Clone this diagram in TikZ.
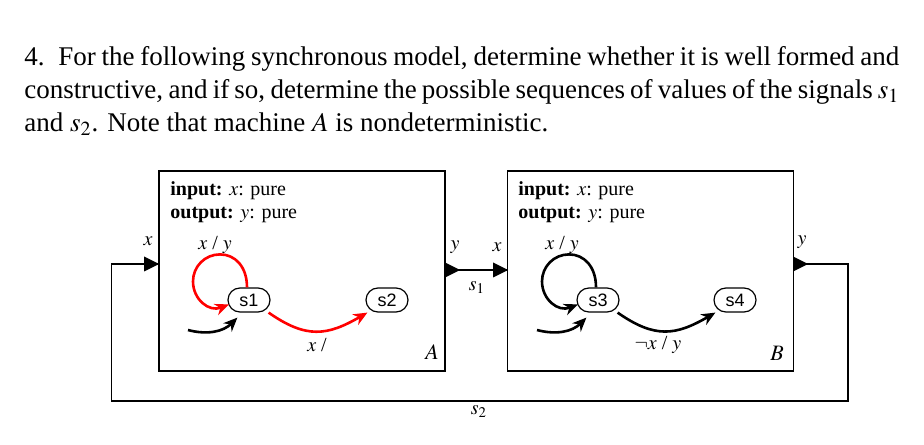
\documentclass[tikz,border=0pt]{standalone}
\usepackage{mathptmx}
\usepackage{fontspec}
\setmainfont{Liberation Serif}
\newfontfamily\statefont{Liberation Sans}
\usetikzlibrary{arrows.meta,positioning,calc}
\tikzset{
  actor/.style={draw,line width=0.6pt,minimum width=143pt,minimum height=100pt,inner sep=0pt},
  state/.style={draw,line width=0.6pt,rounded corners=6pt,minimum width=21pt,minimum height=12pt,
    inner sep=0pt,font=\statefont\fontsize{9}{10}\selectfont},
  trans/.style={line width=1.3pt,-{Stealth[length=7pt,width=6pt]}},
  nondet/.style={trans,red},
  wire/.style={line width=0.6pt},
  lbl/.style={font=\fontsize{10}{11.5}\selectfont,inner sep=0pt}
}

\begin{document}
\begin{tikzpicture}[x=0.5pt,y=0.5pt]
  \useasboundingbox (0,0) rectangle (924,444);
  % the question
  \node[anchor=north west,inner sep=0pt,text width=437.5pt,align=justify,
    font=\fontsize{13.5}{16.5}\selectfont] (question) at (24,398)
    {\hangindent=17pt\hangafter=1\makebox[17pt][l]{4.}For the following synchronous model, determine whether it is well formed and\linebreak
     constructive, and if so, determine the possible sequences of values of the signals $s_1$\linebreak
     and $s_2$. Note that machine $A$ is nondeterministic.};

  % machines
  \node[actor] (boxA) at (302,173) {};
  \node[actor] (boxB) at (650.5,173) {};
  \node[lbl,anchor=north west,align=left] (ioA) at (170,263) {\textbf{input:} $x$: pure\\ \textbf{output:} $y$: pure};
  \node[lbl,anchor=north west,align=left] (ioB) at (518,263) {\textbf{input:} $x$: pure\\ \textbf{output:} $y$: pure};
  \node[lbl,font=\fontsize{11}{13}\selectfont] (nameA) at (432,92) {$A$};
  \node[lbl,font=\fontsize{11}{13}\selectfont] (nameB) at (777,91) {$B$};

  % states
  \node[state] (sOne) at (249,144) {s1};
  \node[state] (sTwo) at (387,144) {s2};
  \node[state] (sThree) at (598,144) {s3};
  \node[state] (sFour) at (735,144) {s4};

  % machine A
  \draw[nondet] ([xshift=-1pt]sOne.north) .. controls +(0,21) and +(15,0) .. ++(-27,33)
    .. controls +(-15,0) and +(0,15) .. ++(-27,-27)
    .. controls +(0,-18) and +(-20,-8) .. ++(36,-23);
  \node[lbl] (loopA) at (215,199) {$x$ / $y$};
  \coordinate (initA) at (188,114);
  \draw[trans] (initA) to[out=-15,in=-135] ([shift={(5pt,-2.5pt)}]sOne.south west);
  \draw[nondet] ([xshift=-1pt]sOne.south east) to[out=-35,in=-150,looseness=1.2] ([xshift=1pt]sTwo.south west);
  \node[lbl] (trA) at (317,99) {$x$ /};

  % machine B
  \draw[trans] ([xshift=-1pt]sThree.north) .. controls +(0,21) and +(15,0) .. ++(-27,33)
    .. controls +(-15,0) and +(0,15) .. ++(-27,-27)
    .. controls +(0,-18) and +(-20,-8) .. ++(36,-23);
  \node[lbl] (loopB) at (562,199) {$x$ / $y$};
  \coordinate (initB) at (537,114);
  \draw[trans] (initB) to[out=-15,in=-135] ([shift={(5pt,-2.5pt)}]sThree.south west);
  \draw[trans] ([xshift=-1pt]sThree.south east) to[out=-35,in=-150,looseness=1.2] ([xshift=1pt]sFour.south west);
  \node[lbl] (trB) at (658,99) {$\neg x$ / $y$};

  % ports
  \coordinate (aIn) at (159,180);
  \coordinate (aOut) at (445,174);
  \coordinate (bIn) at (508,174);
  \coordinate (bOut) at (793,180);
  \fill (aIn) -- ++(-15,7.5) -- ++(0,-15) -- cycle;
  \fill (bIn) -- ++(-15,7.5) -- ++(0,-15) -- cycle;
  \fill (aOut) -- ++(0,7.5) -- ++(15,-7.5) -- ++(-15,-7.5) -- cycle;
  \fill (bOut) -- ++(0,7.5) -- ++(15,-7.5) -- ++(-15,-7.5) -- cycle;

  % wires
  \coordinate (fbL) at (111.5,43);
  \coordinate (fbR) at (848,43);
  \draw[wire] (aOut) -- (bIn);
  \draw[wire] (bOut) -| (fbR) -- (fbL) |- (aIn);
  \node[lbl] (xA) at (148,203) {$x$};
  \node[lbl] (yA) at (455,197) {$y$};
  \node[lbl] (xB) at (497,197) {$x$};
  \node[lbl] (yB) at (802,202) {$y$};
  \node[lbl] (sigOne) at (477,156) {$s_1$};
  \node[lbl] (sigTwo) at (479,32) {$s_2$};
\end{tikzpicture}
\end{document}
